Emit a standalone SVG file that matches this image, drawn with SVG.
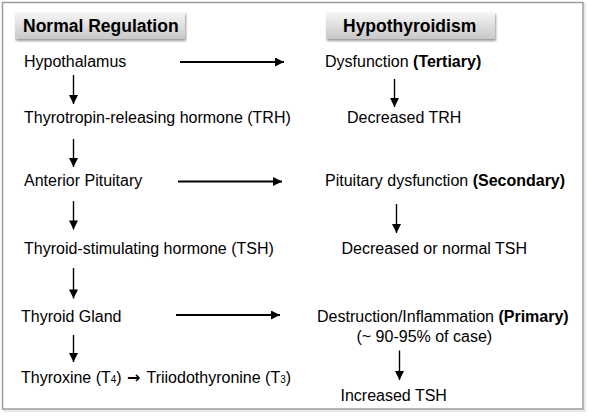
<svg xmlns="http://www.w3.org/2000/svg" width="589" height="416" viewBox="0 0 589 416">
<defs>
<linearGradient id="hdr" x1="0" y1="0" x2="0" y2="1">
<stop offset="0" stop-color="#f6f6f6"/>
<stop offset="1" stop-color="#c8c8c8"/>
</linearGradient>
<filter id="sh" x="-10%" y="-20%" width="120%" height="160%">
<feGaussianBlur stdDeviation="1.2"/>
</filter>
<marker id="ah" viewBox="0 0 10 10" refX="10" refY="5" markerWidth="9" markerHeight="9" markerUnits="userSpaceOnUse" orient="auto">
<path d="M0,0 L10,5 L0,10 Z" fill="#000"/>
</marker>
<marker id="av" viewBox="0 0 10 10" refX="10" refY="5" markerWidth="10" markerHeight="9" markerUnits="userSpaceOnUse" orient="auto">
<path d="M0,0 L10,5 L0,10 Z" fill="#000"/>
</marker>
</defs>
<style>
text{font-family:"Liberation Sans",Arial,sans-serif;font-size:16px;fill:#000}
.h{font-weight:bold;font-size:17.5px}
.b{font-weight:bold}
.sub{font-size:10px}
.hl{stroke:#000;stroke-width:2;fill:none;marker-end:url(#ah)}
.vl{stroke:#000;stroke-width:1.4;fill:none;marker-end:url(#av)}
</style>
<rect x="0" y="0" width="589" height="416" fill="#fff"/>
<rect x="4" y="4" width="581" height="407" fill="none" stroke="#e2e2e2" stroke-width="1.5"/>
<rect x="2.5" y="2.5" width="580.5" height="406.5" fill="#fff" stroke="#9c9c9c" stroke-width="1.5"/>

<g id="hdr-normal">
<rect x="16" y="14" width="170" height="27" fill="#9a9a9a" filter="url(#sh)"/>
<rect x="15" y="12" width="170" height="27" fill="url(#hdr)"/>
<text class="h" x="23" y="31.5">Normal Regulation</text>
</g>
<g id="hdr-hypo">
<rect x="327" y="14" width="169" height="27" fill="#9a9a9a" filter="url(#sh)"/>
<rect x="326" y="12" width="169" height="27" fill="url(#hdr)"/>
<text class="h" x="343" y="31.5">Hypothyroidism</text>
</g>

<g id="n-hypothalamus"><text x="24" y="66.5">Hypothalamus</text></g>
<g id="n-trh"><text x="24" y="123">Thyrotropin-releasing hormone (TRH)</text></g>
<g id="n-anterior"><text x="24" y="185.5">Anterior Pituitary</text></g>
<g id="n-tsh"><text x="24" y="254">Thyroid-stimulating hormone (TSH)</text></g>
<g id="n-thyroid"><text x="21" y="321.5">Thyroid Gland</text></g>
<g id="n-thyroxine">
<text x="21" y="382.5">Thyroxine (T<tspan class="sub">4</tspan>)</text>
<text x="127" y="383" style="font-family:'DejaVu Sans',sans-serif;font-weight:bold;font-size:16px">→</text>
<text x="146.5" y="382.5">Triiodothyronine (T<tspan class="sub">3</tspan>)</text>
</g>

<g id="n-tertiary"><text x="325" y="66.5">Dysfunction <tspan class="b">(Tertiary)</tspan></text></g>
<g id="n-dectrh"><text x="347" y="123">Decreased TRH</text></g>
<g id="n-secondary"><text x="325" y="185.5">Pituitary dysfunction <tspan class="b">(Secondary)</tspan></text></g>
<g id="n-dectsh"><text x="341.5" y="254">Decreased or normal TSH</text></g>
<g id="n-primary">
<text x="317" y="321.5">Destruction/Inflammation <tspan class="b">(Primary)</tspan></text>
<text x="356.5" y="341.5">(~ 90-95% of case)</text>
</g>
<g id="n-inctsh"><text x="340.5" y="400.5">Increased TSH</text></g>

<g id="connectors">
<line class="hl" x1="180" y1="62" x2="284" y2="62"/>
<line class="hl" x1="178" y1="181.5" x2="282" y2="181.5"/>
<line class="hl" x1="176" y1="315" x2="280" y2="315"/>
<line class="vl" x1="73.5" y1="75" x2="73.5" y2="104"/>
<line class="vl" x1="73.5" y1="139" x2="73.5" y2="167"/>
<line class="vl" x1="73.5" y1="201" x2="73.5" y2="229.5"/>
<line class="vl" x1="73.5" y1="268" x2="73.5" y2="298.5"/>
<line class="vl" x1="73.5" y1="335" x2="73.5" y2="362"/>
<line class="vl" x1="394.5" y1="79" x2="394.5" y2="107"/>
<line class="vl" x1="396.5" y1="204" x2="396.5" y2="233"/>
<line class="vl" x1="399.5" y1="350.5" x2="399.5" y2="380"/>
</g>
</svg>
